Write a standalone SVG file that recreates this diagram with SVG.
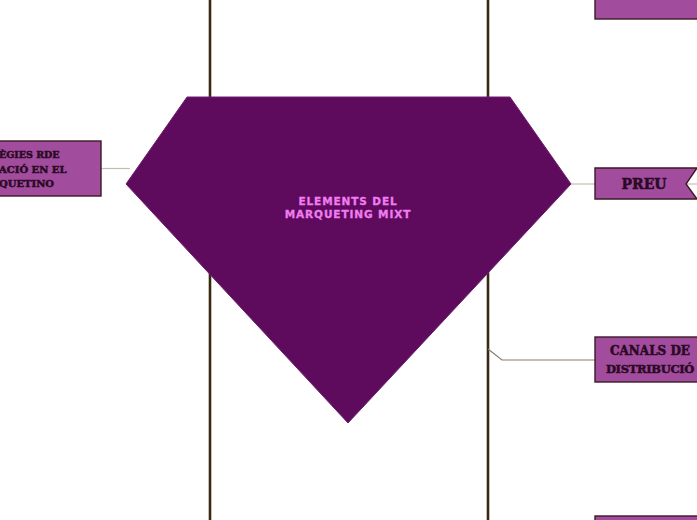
<svg xmlns="http://www.w3.org/2000/svg" width="697" height="520" viewBox="0 0 697 520">
<style>
.vline{stroke:#3a2812;stroke-width:2.6;fill:none}
.conn{stroke:#c4bcb2;stroke-width:1.2;fill:none}
.conn2{stroke:#8c7c68;stroke-width:1.2;fill:none}
.box{fill:#a24c9e;stroke:#3b1a24;stroke-width:1.4}
.lbl{font-family:"DejaVu Serif",serif;font-weight:bold;fill:#2a0a24;stroke:#2a0a24;stroke-width:0.5}
.ctr{font-family:"DejaVu Sans",sans-serif;font-weight:bold;fill:#f07cf0;stroke:#f07cf0;stroke-width:0.3;font-size:10.5px;letter-spacing:0.9px;text-anchor:middle}
</style>
<rect width="697" height="520" fill="#ffffff"/>
<g id="connectors">
<line class="vline" x1="210" y1="0" x2="210" y2="520"/>
<line class="vline" x1="488" y1="0" x2="488" y2="520"/>
<line class="conn" x1="101" y1="168.5" x2="130" y2="168.5"/>
<line class="conn" x1="570" y1="184" x2="595" y2="184"/>
<line class="conn" x1="686" y1="184" x2="697" y2="184"/>
<polyline class="conn2" points="488,349 502,360 595,360"/>
</g>
<g id="center">
<polygon points="187,97 510,97 571,184 348,423 126,184" fill="#5e0b5e" stroke="#6e1e6e" stroke-width="1"/>
<text class="ctr" x="348" y="205">ELEMENTS DEL</text>
<text class="ctr" x="348" y="218">MARQUETING MIXT</text>
</g>
<g id="node-left">
<rect class="box" x="-5" y="141" width="106" height="55"/>
<text class="lbl" font-size="9.5" x="-1" y="158">ÈGIES RDE</text>
<text class="lbl" font-size="10" x="-1" y="173">ACIÓ EN EL</text>
<text class="lbl" font-size="10" x="-1" y="187">QUETINO</text>
</g>
<g id="node-preu">
<polygon class="box" points="595,168 702,168 702,168 697,168 686,184 697,199 595,199"/>
<text class="lbl" font-size="14" x="644" y="189" text-anchor="middle">PREU</text>
</g>
<g id="node-canals">
<rect class="box" x="595" y="337" width="110" height="45"/>
<text class="lbl" font-size="12" x="650" y="355" text-anchor="middle">CANALS DE</text>
<text class="lbl" font-size="11.5" letter-spacing="-0.3" x="650" y="373" text-anchor="middle">DISTRIBUCIÓ</text>
</g>
<g id="node-top">
<rect class="box" x="595" y="-10" width="110" height="29"/>
</g>
<g id="node-bottom">
<rect class="box" x="595" y="516" width="110" height="20"/>
</g>
</svg>
